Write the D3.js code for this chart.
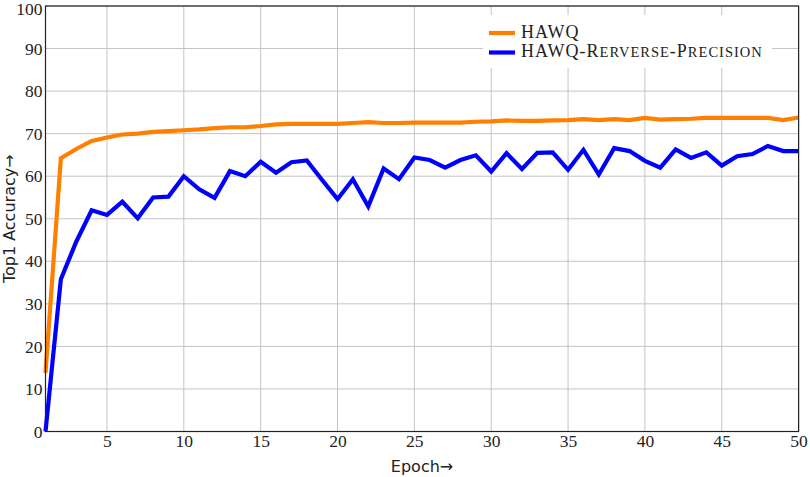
<!DOCTYPE html>
<html>
<head>
<meta charset="utf-8">
<script src="https://cdn.jsdelivr.net/npm/d3@7"></script>
<style>
    body { margin: 0; background: #fff; }
    svg { display: block; }
</style>
</head>
<body>
<div id="chart"></div>
<script>
// values
const epochs = d3.range(1, 51);

const hawq = [
    13.8, 64.2, 66.4, 68.3, 69.1, 69.8, 70.0, 70.4, 70.6, 70.8,
    71.0, 71.3, 71.5, 71.5, 71.8, 72.2, 72.3, 72.3, 72.3, 72.3,
    72.5, 72.7, 72.5, 72.5, 72.6, 72.6, 72.6, 72.6, 72.8, 72.9,
    73.1, 73.0, 73.0, 73.1, 73.2, 73.4, 73.2, 73.4, 73.2, 73.7,
    73.3, 73.4, 73.5, 73.7, 73.7, 73.7, 73.7, 73.7, 73.2, 73.8
];

const hawqReverse = [
    0.0, 35.8, 44.6, 52.0, 50.9, 54.0, 50.1, 55.0, 55.2, 60.0,
    56.9, 54.9, 61.2, 60.0, 63.4, 60.8, 63.3, 63.7, 59.1, 54.6,
    59.3, 52.9, 61.8, 59.3, 64.4, 63.8, 62.0, 63.8, 64.9, 61.1,
    65.4, 61.7, 65.5, 65.6, 61.5, 66.2, 60.4, 66.6, 65.9, 63.6,
    62.0, 66.3, 64.3, 65.6, 62.5, 64.7, 65.2, 67.1, 65.9, 65.9
];

const xTicks = [5, 10, 15, 20, 25, 30, 35, 40, 45, 50];
const yTicks = [0, 10, 20, 30, 40, 50, 60, 70, 80, 90, 100];

// legend names split into [text, small-caps?] runs
const seriesNames = [
    [["HAWQ", false]],
    [["HAWQ-R", false], ["ERVERSE", true], ["-P", false], ["RECISION", true]]
];
const seriesColors = ["#ff8000", "#0000ff"];

const width = 810;
const height = 477;
const margin = { top: 6, right: 11.4, bottom: 45.5, left: 45.5 };

const serif = "'Liberation Serif', 'DejaVu Serif', serif";
const sans = "'DejaVu Sans', 'Liberation Sans', sans-serif";

const svg = d3.select("#chart")
    .append("svg")
    .attr("width", width)
    .attr("height", height);

const x = d3.scaleLinear()
    .domain([1, 50])
    .range([margin.left, width - margin.right]);

const y = d3.scaleLinear()
    .domain([0, 100])
    .range([height - margin.bottom, margin.top]);

// grid
svg.append("g")
    .selectAll("line")
    .data(xTicks)
    .enter().append("line")
    .attr("x1", d => x(d)).attr("x2", d => x(d))
    .attr("y1", y(0)).attr("y2", y(100))
    .attr("stroke", "#c4c4c4")
    .attr("stroke-width", 1);

svg.append("g")
    .selectAll("line")
    .data(yTicks)
    .enter().append("line")
    .attr("x1", x(1)).attr("x2", x(50))
    .attr("y1", d => y(d)).attr("y2", d => y(d))
    .attr("stroke", "#c4c4c4")
    .attr("stroke-width", 1);

// series
const line = d3.line()
    .x((d, i) => x(epochs[i]))
    .y(d => y(d));

[hawq, hawqReverse].forEach((values, i) => {
    svg.append("path")
        .datum(values)
        .attr("fill", "none")
        .attr("stroke", seriesColors[i])
        .attr("stroke-width", 4.2)
        .attr("stroke-linejoin", "miter")
        .attr("stroke-miterlimit", 4)
        .attr("d", line);
});

// axes
const xAxis = svg.append("g")
    .attr("transform", `translate(0,${y(0)})`)
    .call(d3.axisBottom(x).tickValues(xTicks).tickSize(0).tickPadding(3));

const yAxis = svg.append("g")
    .attr("transform", `translate(${x(1)},0)`)
    .call(d3.axisLeft(y).tickValues(yTicks).tickSize(0).tickPadding(3));

[xAxis, yAxis].forEach(g => {
    g.select(".domain").remove();
    g.selectAll("text")
        .style("font-family", serif)
        .style("font-size", "17.5px")
        .style("fill", "#222");
});

// keep the top label inside the picture
yAxis.selectAll("text").filter(d => d === 100).attr("dy", "0.48em");

// frame
svg.append("rect")
    .attr("x", x(1)).attr("y", y(100))
    .attr("width", x(50) - x(1))
    .attr("height", y(0) - y(100))
    .attr("fill", "none")
    .attr("stroke", "#222")
    .attr("stroke-width", 1.2);

// axis labels
svg.append("text")
    .attr("x", (x(1) + x(50)) / 2)
    .attr("y", 471.5)
    .attr("text-anchor", "middle")
    .style("font-family", sans)
    .style("font-size", "16px")
    .style("fill", "#222")
    .text("Epoch→");

svg.append("text")
    .attr("transform", `translate(15,${(y(0) + y(100)) / 2}) rotate(-90)`)
    .attr("text-anchor", "middle")
    .style("font-family", sans)
    .style("font-size", "16px")
    .style("fill", "#222")
    .text("Top1 Accuracy→");

// legend
const legend = svg.append("g");

legend.append("rect")
    .attr("x", 483).attr("y", 15)
    .attr("width", 289).attr("height", 53)
    .attr("fill", "#fff");

seriesNames.forEach((runs, i) => {
    const ly = 33 + i * 19.5;
    legend.append("line")
        .attr("x1", 489).attr("x2", 515)
        .attr("y1", ly).attr("y2", ly)
        .attr("stroke", seriesColors[i])
        .attr("stroke-width", 4.2);
    const t = legend.append("text")
        .attr("x", 521)
        .attr("y", ly + 4.5)
        .style("font-family", serif)
        .style("letter-spacing", "1px")
        .style("fill", "#222");
    runs.forEach(([s, small]) => {
        t.append("tspan")
            .style("font-size", small ? "14.5px" : "18px")
            .text(s);
    });
});
</script>
</body>
</html>
